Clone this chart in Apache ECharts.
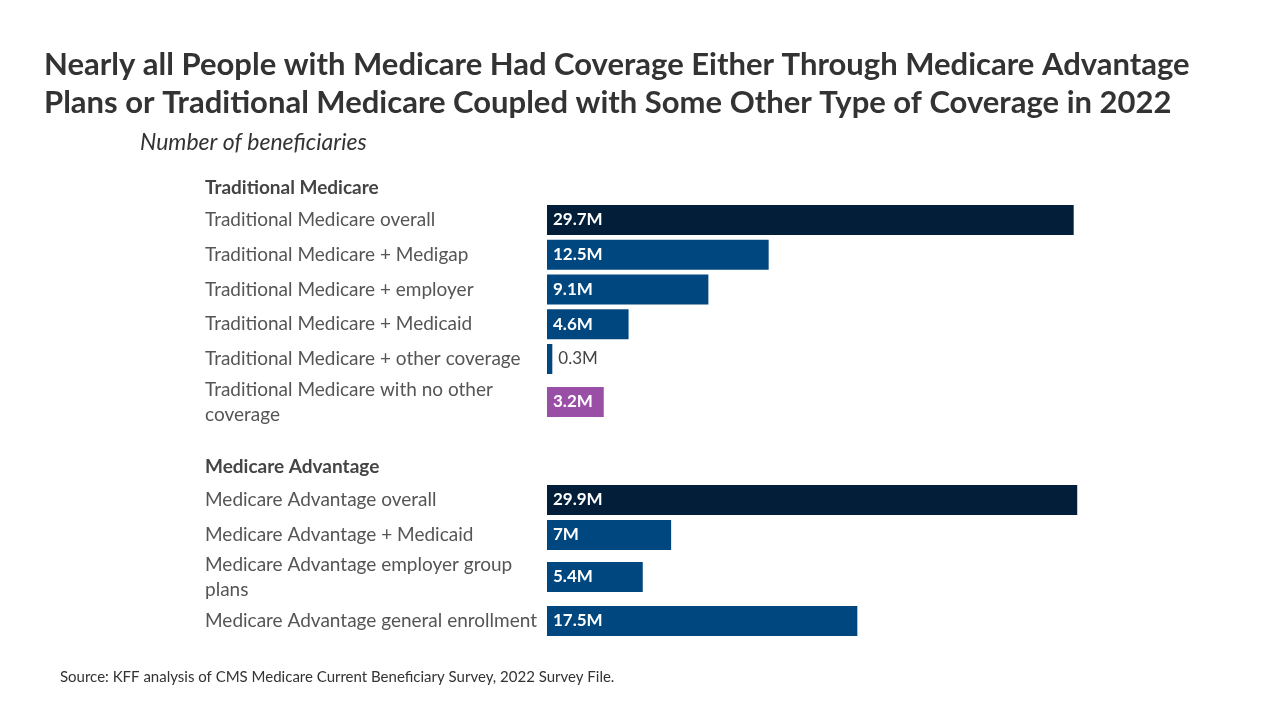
<!DOCTYPE html>
<html>
<head>
<meta charset="utf-8">
<script src="https://cdn.jsdelivr.net/npm/echarts@6/dist/echarts.min.js"></script>
<style>
  html, body { margin: 0; padding: 0; background: #fff; }
  #main { width: 1280px; height: 720px; }
</style>
</head>
<body>
<div id="main"></div>
<script>
// data
let tmCategories = [
    'Traditional Medicare overall',
    'Traditional Medicare + Medigap',
    'Traditional Medicare + employer',
    'Traditional Medicare + Medicaid',
    'Traditional Medicare + other coverage',
    'Traditional Medicare with no other\ncoverage'
];
let tmValues = [29.7, 12.5, 9.1, 4.6, 0.3, 3.2];

let maCategories = [
    'Medicare Advantage overall',
    'Medicare Advantage + Medicaid',
    'Medicare Advantage employer group\nplans',
    'Medicare Advantage general enrollment'
];
let maValues = [29.9, 7, 5.4, 17.5];

let sectionHeaders = ['Traditional Medicare', 'Medicare Advantage'];

let DARK = '#021e39';
let BLUE = '#00477f';
let PURPLE = '#9a4fa6';
let FONT = 'Lato, "Noto Sans", sans-serif';

let tmColors = [DARK, BLUE, BLUE, BLUE, BLUE, PURPLE];
let maColors = [DARK, BLUE, BLUE, BLUE];

// rows are split into blocks so two-line labels get a taller band
// [categories, values, colors, from, to, center of first row, band height]
let blocks = [
    [tmCategories, tmValues, tmColors, 0, 5, 220, 34.75],
    [tmCategories, tmValues, tmColors, 5, 6, 402, 40],
    [maCategories, maValues, maColors, 0, 2, 500, 35],
    [maCategories, maValues, maColors, 2, 4, 577, 44]
];

function barData(values, colors) {
    return values.map(function (v, i) {
        let item = { value: v, itemStyle: { color: colors[i] } };
        if (v < 1) {
            item.label = { position: 'right', color: '#444', fontWeight: 'normal' };
        }
        return item;
    });
}

let labelStyle = {
    show: true,
    position: 'insideLeft',
    distance: 6,
    color: '#fff',
    fontFamily: FONT,
    fontSize: 17,
    fontWeight: 'bold',
    formatter: function (p) { return p.value + 'M'; }
};

let grids = [], xAxes = [], yAxes = [], series = [];
blocks.forEach(function (b, idx) {
    let cats = b[0].slice(b[3], b[4]);
    let vals = b[1].slice(b[3], b[4]);
    let cols = b[2].slice(b[3], b[4]);
    let band = b[6];
    grids.push({ left: 547, width: 532, top: b[5] - band / 2, height: band * cats.length });
    xAxes.push({ type: 'value', gridIndex: idx, min: 0, max: 30, show: false, splitLine: { show: false } });
    yAxes.push({
        type: 'category',
        gridIndex: idx,
        data: cats,
        inverse: true,
        axisLine: { show: false },
        axisTick: { show: false },
        axisLabel: {
            interval: 0,
            align: 'left',
            margin: 342,
            color: '#555',
            fontFamily: FONT,
            fontSize: 19,
            lineHeight: 25
        }
    });
    series.push({
        type: 'bar',
        xAxisIndex: idx,
        yAxisIndex: idx,
        barWidth: 30,
        data: barData(vals, cols),
        label: labelStyle
    });
});

let chart = echarts.init(document.getElementById('main'));
chart.setOption({
    animation: false,
    title: [{
        text: 'Nearly all People with Medicare Had Coverage Either Through Medicare Advantage\nPlans or Traditional Medicare Coupled with Some Other Type of Coverage in 2022',
        left: 39,
        top: 41,
        textStyle: { fontFamily: FONT, fontSize: 31, fontWeight: 'bold', color: '#333', lineHeight: 38 }
    }, {
        text: 'Number of beneficiaries',
        left: 135,
        top: 126,
        textStyle: { fontFamily: FONT, fontSize: 23, fontStyle: 'italic', fontWeight: 'normal', color: '#333' }
    }, {
        text: sectionHeaders[0],
        left: 200,
        top: 173,
        textStyle: { fontFamily: FONT, fontSize: 19, fontWeight: 'bold', color: '#444' }
    }, {
        text: sectionHeaders[1],
        left: 200,
        top: 452,
        textStyle: { fontFamily: FONT, fontSize: 19, fontWeight: 'bold', color: '#444' }
    }, {
        text: 'Source: KFF analysis of CMS Medicare Current Beneficiary Survey, 2022 Survey File.',
        left: 55,
        top: 665,
        textStyle: { fontFamily: FONT, fontSize: 15, fontWeight: 'normal', color: '#333' }
    }],
    grid: grids,
    xAxis: xAxes,
    yAxis: yAxes,
    series: series
});
</script>
</body>
</html>
